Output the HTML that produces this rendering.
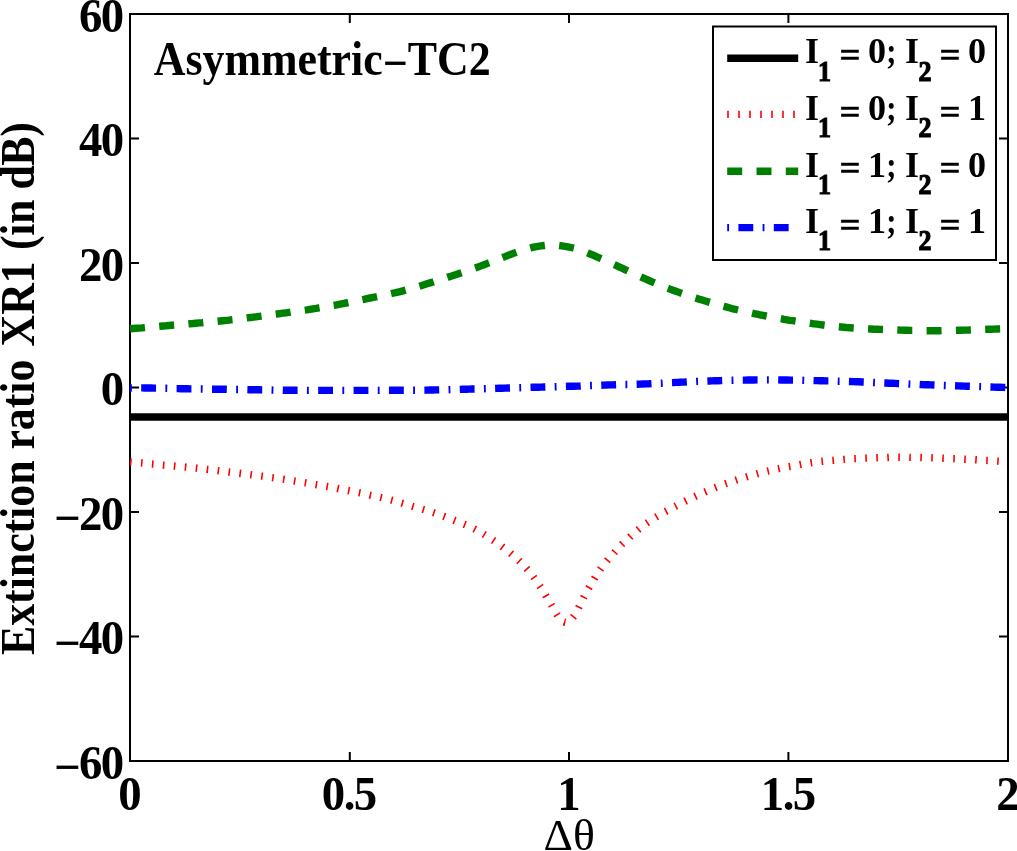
<!DOCTYPE html>
<html><head><meta charset="utf-8"><title>Extinction ratio XR1</title>
<style>
html,body{margin:0;padding:0;background:#fff;}
body{width:1017px;height:851px;overflow:hidden;}
svg{display:block;}
text{font-family:"Liberation Serif",serif;fill:#000;}
</style></head><body>
<svg width="1017" height="851" viewBox="0 0 1017 851">
<rect x="0" y="0" width="1017" height="851" fill="#fff"/>

<g stroke="#000" stroke-width="2" fill="none" stroke-linecap="butt">
<rect x="130" y="14" width="878" height="747"/>
<path d="M349.8 761 V752 M349.8 14 V23"/>
<path d="M569 761 V752 M569 14 V23"/>
<path d="M788.4 761 V752 M788.4 14 V23"/>
<path d="M130 138.5 H139 M1008 138.5 H999"/>
<path d="M130 263 H139 M1008 263 H999"/>
<path d="M130 387.5 H139 M1008 387.5 H999"/>
<path d="M130 512 H139 M1008 512 H999"/>
<path d="M130 636.5 H139 M1008 636.5 H999"/>
</g>
<g fill="none" stroke-linecap="butt" stroke-linejoin="round">
<path d="M130 417 H1008" stroke="#000" stroke-width="7.4"/>
<path d="M130.0 462.0 L133.0 462.3 L136.0 462.5 L139.0 462.8 L142.0 463.0 L145.0 463.3 L148.0 463.6 L151.0 463.9 L154.0 464.1 L157.0 464.4 L160.0 464.7 L163.0 465.0 L166.0 465.2 L169.0 465.5 L172.0 465.8 L175.0 466.1 L178.0 466.4 L181.0 466.6 L184.0 466.9 L187.0 467.2 L190.0 467.5 L193.0 467.8 L196.0 468.1 L199.0 468.5 L202.0 468.8 L205.0 469.1 L208.0 469.5 L211.0 469.8 L214.0 470.2 L217.0 470.5 L220.0 470.9 L223.0 471.2 L226.0 471.6 L229.0 472.0 L232.0 472.3 L235.0 472.7 L238.0 473.1 L241.0 473.5 L244.0 473.8 L247.0 474.2 L250.0 474.6 L253.0 475.0 L256.0 475.4 L259.0 475.8 L262.0 476.2 L265.0 476.6 L268.0 477.0 L271.0 477.5 L274.0 477.9 L277.0 478.3 L280.0 478.8 L283.0 479.2 L286.0 479.7 L289.0 480.1 L292.0 480.6 L295.0 481.1 L298.0 481.6 L301.0 482.0 L304.0 482.5 L307.0 483.0 L310.0 483.6 L313.0 484.1 L316.0 484.6 L319.0 485.1 L322.0 485.7 L325.0 486.2 L328.0 486.7 L331.0 487.3 L334.0 487.8 L337.0 488.4 L340.0 489.0 L343.0 489.5 L346.0 490.1 L349.0 490.7 L352.0 491.3 L355.0 491.9 L358.0 492.5 L361.0 493.1 L364.0 493.8 L367.0 494.4 L370.0 495.1 L373.0 495.7 L376.0 496.4 L379.0 497.1 L382.0 497.8 L385.0 498.5 L388.0 499.2 L391.0 500.0 L394.0 500.8 L397.0 501.7 L400.0 502.6 L403.0 503.5 L406.0 504.4 L409.0 505.3 L412.0 506.2 L415.0 507.1 L418.0 508.0 L421.0 508.8 L424.0 509.7 L427.0 510.6 L430.0 511.5 L433.0 512.5 L436.0 513.5 L439.0 514.6 L442.0 515.6 L445.0 516.7 L448.0 517.9 L451.0 519.0 L454.0 520.2 L457.0 521.4 L460.0 522.6 L463.0 523.8 L466.0 525.0 L469.0 526.3 L472.0 527.7 L475.0 529.2 L478.0 530.8 L481.0 532.5 L484.0 534.4 L487.0 536.3 L490.0 538.2 L493.0 540.2 L496.0 542.2 L499.0 544.4 L502.0 546.6 L505.0 548.8 L508.0 551.2 L511.0 553.7 L514.0 556.2 L517.0 558.8 L520.0 561.6 L523.0 564.5 L526.0 567.7 L529.0 571.1 L532.0 574.9 L535.0 579.0 L538.0 583.3 L541.0 587.8 L544.0 592.6 L547.0 597.7 L550.0 602.6 L553.0 607.6 L556.0 613.1 L559.0 618.1 L562.0 621.3 L565.0 622.4 L565.5 622.5 L568.5 621.4 L571.5 619.1 L574.5 615.4 L577.5 609.9 L580.5 603.8 L583.5 597.7 L586.5 592.1 L589.5 586.8 L592.5 581.7 L595.5 576.7 L598.5 572.0 L601.5 567.7 L604.5 563.9 L607.5 560.2 L610.5 556.7 L613.5 553.4 L616.5 550.0 L619.5 546.7 L622.5 543.7 L625.5 540.9 L628.5 538.2 L631.5 535.4 L634.5 532.6 L637.5 530.1 L640.5 527.7 L643.5 525.5 L646.5 523.3 L649.5 521.3 L652.5 519.3 L655.5 517.4 L658.5 515.6 L661.5 513.8 L664.5 512.1 L667.5 510.5 L670.5 508.8 L673.5 507.2 L676.5 505.7 L679.5 504.1 L682.5 502.6 L685.5 501.1 L688.5 499.7 L691.5 498.2 L694.5 496.8 L697.5 495.4 L700.5 494.0 L703.5 492.6 L706.5 491.3 L709.5 490.0 L712.5 488.7 L715.5 487.5 L718.5 486.3 L721.5 485.2 L724.5 484.1 L727.5 483.1 L730.5 482.0 L733.5 481.0 L736.5 480.0 L739.5 479.0 L742.5 478.1 L745.5 477.2 L748.5 476.3 L751.5 475.4 L754.5 474.6 L757.5 473.7 L760.5 472.9 L763.5 472.2 L766.5 471.4 L769.5 470.7 L772.5 470.0 L775.5 469.3 L778.5 468.7 L781.5 468.0 L784.5 467.4 L787.5 466.8 L790.5 466.3 L793.5 465.7 L796.5 465.2 L799.5 464.7 L802.5 464.1 L805.5 463.6 L808.5 463.2 L811.5 462.7 L814.5 462.3 L817.5 461.9 L820.5 461.5 L823.5 461.2 L826.5 460.9 L829.5 460.6 L832.5 460.4 L835.5 460.1 L838.5 459.9 L841.5 459.7 L844.5 459.4 L847.5 459.2 L850.5 459.0 L853.5 458.7 L856.5 458.6 L859.5 458.4 L862.5 458.2 L865.5 458.1 L868.5 458.0 L871.5 457.9 L874.5 457.8 L877.5 457.7 L880.5 457.6 L883.5 457.5 L886.5 457.5 L889.5 457.3 L892.5 457.2 L895.5 457.2 L898.5 457.2 L901.5 457.2 L904.5 457.3 L907.5 457.3 L910.5 457.4 L913.5 457.4 L916.5 457.5 L919.5 457.5 L922.5 457.6 L925.5 457.7 L928.5 457.7 L931.5 457.8 L934.5 457.9 L937.5 457.9 L940.5 458.0 L943.5 458.2 L946.5 458.3 L949.5 458.4 L952.5 458.6 L955.5 458.7 L958.5 458.9 L961.5 459.0 L964.5 459.2 L967.5 459.3 L970.5 459.5 L973.5 459.6 L976.5 459.8 L979.5 460.0 L982.5 460.2 L985.5 460.4 L988.5 460.5 L991.5 460.7 L994.5 460.9 L997.5 461.1 L1000.5 461.3 L1003.5 461.6 L1006.5 461.8 L1008.0 462.0" stroke="#ff0000" stroke-width="7.4" stroke-dasharray="1.6 9.4"/>
<path d="M130.0 328.7 L133.0 328.5 L136.0 328.3 L139.0 328.1 L142.0 327.9 L145.0 327.6 L148.0 327.4 L151.0 327.1 L154.0 326.8 L157.0 326.6 L160.0 326.3 L163.0 326.0 L166.0 325.8 L169.0 325.5 L172.0 325.2 L175.0 325.0 L178.0 324.7 L181.0 324.5 L184.0 324.2 L187.0 324.0 L190.0 323.7 L193.0 323.5 L196.0 323.2 L199.0 322.9 L202.0 322.7 L205.0 322.4 L208.0 322.2 L211.0 321.9 L214.0 321.6 L217.0 321.3 L220.0 321.0 L223.0 320.7 L226.0 320.4 L229.0 320.1 L232.0 319.7 L235.0 319.4 L238.0 319.0 L241.0 318.7 L244.0 318.3 L247.0 317.9 L250.0 317.5 L253.0 317.2 L256.0 316.8 L259.0 316.4 L262.0 316.0 L265.0 315.6 L268.0 315.2 L271.0 314.8 L274.0 314.4 L277.0 314.0 L280.0 313.6 L283.0 313.2 L286.0 312.8 L289.0 312.4 L292.0 311.9 L295.0 311.5 L298.0 311.1 L301.0 310.7 L304.0 310.2 L307.0 309.8 L310.0 309.3 L313.0 308.8 L316.0 308.4 L319.0 307.9 L322.0 307.4 L325.0 306.9 L328.0 306.4 L331.0 305.9 L334.0 305.4 L337.0 304.8 L340.0 304.2 L343.0 303.6 L346.0 303.0 L349.0 302.4 L352.0 301.8 L355.0 301.2 L358.0 300.5 L361.0 299.9 L364.0 299.3 L367.0 298.6 L370.0 298.0 L373.0 297.4 L376.0 296.8 L379.0 296.2 L382.0 295.6 L385.0 294.9 L388.0 294.3 L391.0 293.7 L394.0 293.0 L397.0 292.3 L400.0 291.6 L403.0 290.8 L406.0 290.0 L409.0 289.2 L412.0 288.3 L415.0 287.5 L418.0 286.6 L421.0 285.7 L424.0 284.8 L427.0 283.8 L430.0 282.9 L433.0 282.0 L436.0 281.0 L439.0 280.1 L442.0 279.1 L445.0 278.1 L448.0 277.1 L451.0 276.2 L454.0 275.2 L457.0 274.2 L460.0 273.2 L463.0 272.2 L466.0 271.2 L469.0 270.1 L472.0 269.1 L475.0 268.0 L478.0 267.0 L481.0 265.9 L484.0 264.8 L487.0 263.6 L490.0 262.5 L493.0 261.3 L496.0 260.1 L499.0 258.9 L502.0 257.7 L505.0 256.6 L508.0 255.4 L511.0 254.2 L514.0 253.1 L517.0 252.0 L520.0 251.0 L523.0 250.0 L526.0 249.1 L529.0 248.3 L532.0 247.5 L535.0 246.9 L538.0 246.4 L541.0 245.9 L544.0 245.5 L547.0 245.1 L550.0 244.9 L553.0 244.9 L556.0 245.2 L559.0 245.5 L562.0 245.9 L565.0 246.3 L568.0 246.8 L571.0 247.5 L574.0 248.2 L577.0 249.0 L580.0 250.0 L583.0 251.1 L586.0 252.3 L589.0 253.5 L592.0 254.7 L595.0 256.0 L598.0 257.3 L601.0 258.7 L604.0 260.0 L607.0 261.3 L610.0 262.7 L613.0 264.1 L616.0 265.4 L619.0 266.8 L622.0 268.2 L625.0 269.6 L628.0 271.0 L631.0 272.4 L634.0 273.8 L637.0 275.1 L640.0 276.5 L643.0 277.9 L646.0 279.2 L649.0 280.5 L652.0 281.8 L655.0 283.1 L658.0 284.3 L661.0 285.6 L664.0 286.8 L667.0 288.0 L670.0 289.1 L673.0 290.2 L676.0 291.3 L679.0 292.4 L682.0 293.5 L685.0 294.5 L688.0 295.5 L691.0 296.5 L694.0 297.5 L697.0 298.4 L700.0 299.4 L703.0 300.3 L706.0 301.2 L709.0 302.1 L712.0 303.0 L715.0 303.9 L718.0 304.8 L721.0 305.6 L724.0 306.4 L727.0 307.2 L730.0 308.0 L733.0 308.8 L736.0 309.5 L739.0 310.2 L742.0 310.9 L745.0 311.6 L748.0 312.3 L751.0 312.9 L754.0 313.6 L757.0 314.2 L760.0 314.8 L763.0 315.4 L766.0 316.0 L769.0 316.6 L772.0 317.1 L775.0 317.7 L778.0 318.2 L781.0 318.7 L784.0 319.3 L787.0 319.8 L790.0 320.3 L793.0 320.7 L796.0 321.2 L799.0 321.7 L802.0 322.1 L805.0 322.5 L808.0 323.0 L811.0 323.4 L814.0 323.8 L817.0 324.2 L820.0 324.6 L823.0 325.0 L826.0 325.4 L829.0 325.7 L832.0 326.1 L835.0 326.4 L838.0 326.7 L841.0 327.0 L844.0 327.3 L847.0 327.6 L850.0 327.8 L853.0 328.0 L856.0 328.2 L859.0 328.4 L862.0 328.6 L865.0 328.8 L868.0 328.9 L871.0 329.0 L874.0 329.2 L877.0 329.3 L880.0 329.4 L883.0 329.5 L886.0 329.6 L889.0 329.8 L892.0 329.9 L895.0 329.9 L898.0 330.0 L901.0 330.1 L904.0 330.2 L907.0 330.3 L910.0 330.4 L913.0 330.4 L916.0 330.5 L919.0 330.6 L922.0 330.6 L925.0 330.7 L928.0 330.7 L931.0 330.7 L934.0 330.7 L937.0 330.7 L940.0 330.7 L943.0 330.6 L946.0 330.6 L949.0 330.5 L952.0 330.5 L955.0 330.4 L958.0 330.3 L961.0 330.2 L964.0 330.1 L967.0 330.1 L970.0 330.0 L973.0 329.9 L976.0 329.7 L979.0 329.6 L982.0 329.5 L985.0 329.4 L988.0 329.3 L991.0 329.2 L994.0 329.1 L997.0 329.0 L1000.0 328.9 L1003.0 328.8 L1006.0 328.8 L1008.0 328.7" stroke="#008000" stroke-width="7.4" stroke-dasharray="15 14.3"/>
<path d="M130.0 388.0 L133.0 388.0 L136.0 387.9 L139.0 387.9 L142.0 387.9 L145.0 388.0 L148.0 388.0 L151.0 388.0 L154.0 388.1 L157.0 388.1 L160.0 388.2 L163.0 388.3 L166.0 388.3 L169.0 388.4 L172.0 388.5 L175.0 388.6 L178.0 388.6 L181.0 388.7 L184.0 388.8 L187.0 388.8 L190.0 388.9 L193.0 388.9 L196.0 389.0 L199.0 389.0 L202.0 389.0 L205.0 389.1 L208.0 389.1 L211.0 389.2 L214.0 389.2 L217.0 389.2 L220.0 389.3 L223.0 389.3 L226.0 389.3 L229.0 389.4 L232.0 389.4 L235.0 389.5 L238.0 389.5 L241.0 389.5 L244.0 389.6 L247.0 389.6 L250.0 389.7 L253.0 389.7 L256.0 389.8 L259.0 389.8 L262.0 389.9 L265.0 389.9 L268.0 390.0 L271.0 390.0 L274.0 390.1 L277.0 390.1 L280.0 390.1 L283.0 390.2 L286.0 390.2 L289.0 390.2 L292.0 390.3 L295.0 390.3 L298.0 390.3 L301.0 390.3 L304.0 390.3 L307.0 390.4 L310.0 390.4 L313.0 390.4 L316.0 390.4 L319.0 390.4 L322.0 390.4 L325.0 390.4 L328.0 390.4 L331.0 390.4 L334.0 390.4 L337.0 390.4 L340.0 390.4 L343.0 390.4 L346.0 390.4 L349.0 390.4 L352.0 390.4 L355.0 390.4 L358.0 390.4 L361.0 390.4 L364.0 390.4 L367.0 390.4 L370.0 390.4 L373.0 390.4 L376.0 390.4 L379.0 390.4 L382.0 390.4 L385.0 390.3 L388.0 390.3 L391.0 390.3 L394.0 390.3 L397.0 390.3 L400.0 390.3 L403.0 390.3 L406.0 390.3 L409.0 390.2 L412.0 390.2 L415.0 390.2 L418.0 390.2 L421.0 390.1 L424.0 390.1 L427.0 390.1 L430.0 390.0 L433.0 390.0 L436.0 389.9 L439.0 389.9 L442.0 389.8 L445.0 389.7 L448.0 389.7 L451.0 389.6 L454.0 389.5 L457.0 389.5 L460.0 389.4 L463.0 389.3 L466.0 389.2 L469.0 389.1 L472.0 389.0 L475.0 389.0 L478.0 388.9 L481.0 388.8 L484.0 388.7 L487.0 388.6 L490.0 388.5 L493.0 388.5 L496.0 388.4 L499.0 388.3 L502.0 388.2 L505.0 388.1 L508.0 388.0 L511.0 387.9 L514.0 387.9 L517.0 387.8 L520.0 387.7 L523.0 387.6 L526.0 387.5 L529.0 387.4 L532.0 387.3 L535.0 387.3 L538.0 387.2 L541.0 387.1 L544.0 387.0 L547.0 386.9 L550.0 386.9 L553.0 386.8 L556.0 386.7 L559.0 386.6 L562.0 386.5 L565.0 386.4 L568.0 386.3 L571.0 386.3 L574.0 386.2 L577.0 386.1 L580.0 386.0 L583.0 385.8 L586.0 385.7 L589.0 385.6 L592.0 385.5 L595.0 385.4 L598.0 385.3 L601.0 385.2 L604.0 385.1 L607.0 385.0 L610.0 384.9 L613.0 384.9 L616.0 384.8 L619.0 384.7 L622.0 384.6 L625.0 384.5 L628.0 384.5 L631.0 384.4 L634.0 384.3 L637.0 384.2 L640.0 384.1 L643.0 384.0 L646.0 383.9 L649.0 383.8 L652.0 383.6 L655.0 383.5 L658.0 383.3 L661.0 383.2 L664.0 383.0 L667.0 382.9 L670.0 382.7 L673.0 382.6 L676.0 382.4 L679.0 382.3 L682.0 382.1 L685.0 382.0 L688.0 381.8 L691.0 381.7 L694.0 381.6 L697.0 381.4 L700.0 381.3 L703.0 381.2 L706.0 381.1 L709.0 381.0 L712.0 380.9 L715.0 380.8 L718.0 380.7 L721.0 380.6 L724.0 380.5 L727.0 380.4 L730.0 380.3 L733.0 380.3 L736.0 380.2 L739.0 380.1 L742.0 380.1 L745.0 380.1 L748.0 380.0 L751.0 380.0 L754.0 380.0 L757.0 379.9 L760.0 379.9 L763.0 379.9 L766.0 379.9 L769.0 379.9 L772.0 379.9 L775.0 379.9 L778.0 379.9 L781.0 380.0 L784.0 380.0 L787.0 380.0 L790.0 380.1 L793.0 380.1 L796.0 380.2 L799.0 380.2 L802.0 380.3 L805.0 380.4 L808.0 380.4 L811.0 380.5 L814.0 380.6 L817.0 380.6 L820.0 380.7 L823.0 380.8 L826.0 380.9 L829.0 380.9 L832.0 381.0 L835.0 381.1 L838.0 381.2 L841.0 381.2 L844.0 381.3 L847.0 381.4 L850.0 381.5 L853.0 381.6 L856.0 381.7 L859.0 381.8 L862.0 382.0 L865.0 382.1 L868.0 382.2 L871.0 382.3 L874.0 382.5 L877.0 382.6 L880.0 382.7 L883.0 382.9 L886.0 383.0 L889.0 383.2 L892.0 383.3 L895.0 383.4 L898.0 383.6 L901.0 383.7 L904.0 383.8 L907.0 383.9 L910.0 384.1 L913.0 384.2 L916.0 384.3 L919.0 384.4 L922.0 384.6 L925.0 384.7 L928.0 384.8 L931.0 384.9 L934.0 385.0 L937.0 385.1 L940.0 385.2 L943.0 385.4 L946.0 385.5 L949.0 385.6 L952.0 385.7 L955.0 385.8 L958.0 385.9 L961.0 386.0 L964.0 386.1 L967.0 386.2 L970.0 386.3 L973.0 386.4 L976.0 386.5 L979.0 386.6 L982.0 386.7 L985.0 386.8 L988.0 386.9 L991.0 387.0 L994.0 387.1 L997.0 387.2 L1000.0 387.3 L1003.0 387.4 L1006.0 387.5 L1008.0 387.6" stroke="#0000ff" stroke-width="7.4" stroke-dasharray="1.85 9.35 14.85 9.35"/>
</g>
<text transform="translate(122.6,31.5) scale(0.975,1)" font-size="48" font-weight="bold" letter-spacing="-1.64" text-anchor="end">60</text>
<text transform="translate(122.6,156.0) scale(0.975,1)" font-size="48" font-weight="bold" letter-spacing="-1.64" text-anchor="end">40</text>
<text transform="translate(122.6,280.5) scale(0.975,1)" font-size="48" font-weight="bold" letter-spacing="-1.64" text-anchor="end">20</text>
<text transform="translate(122.6,405.0) scale(0.975,1)" font-size="48" font-weight="bold" letter-spacing="-1.64" text-anchor="end">0</text>
<text transform="translate(122.6,529.5) scale(0.975,1)" font-size="48" font-weight="bold" letter-spacing="-1.64" text-anchor="end"><tspan dy="4.8">−</tspan><tspan dy="-4.8">20</tspan></text>
<text transform="translate(122.6,654.0) scale(0.975,1)" font-size="48" font-weight="bold" letter-spacing="-1.64" text-anchor="end"><tspan dy="4.8">−</tspan><tspan dy="-4.8">40</tspan></text>
<text transform="translate(122.6,778.5) scale(0.975,1)" font-size="48" font-weight="bold" letter-spacing="-1.64" text-anchor="end"><tspan dy="4.8">−</tspan><tspan dy="-4.8">60</tspan></text>
<text transform="translate(129.2,810.2) scale(0.975,1)" font-size="48" font-weight="bold" letter-spacing="-1.64" text-anchor="middle">0</text>
<text transform="translate(348.7,810.2) scale(0.975,1)" font-size="48" font-weight="bold" letter-spacing="-1.64" text-anchor="middle">0.5</text>
<text transform="translate(568.2,810.2) scale(0.975,1)" font-size="48" font-weight="bold" letter-spacing="-1.64" text-anchor="middle">1</text>
<text transform="translate(787.7,810.2) scale(0.975,1)" font-size="48" font-weight="bold" letter-spacing="-1.64" text-anchor="middle">1.5</text>
<text transform="translate(1007.2,810.2) scale(0.975,1)" font-size="48" font-weight="bold" letter-spacing="-1.64" text-anchor="middle">2</text>
<text x="543.6" y="849.6" font-size="43.5" textLength="51.3" lengthAdjust="spacingAndGlyphs">Δθ</text>
<text transform="translate(33.8,388.8) rotate(-90) scale(0.9115,1)" font-size="48" font-weight="bold" text-anchor="middle" xml:space="preserve">Extinction ratio <tspan dx="2.6">XR1 </tspan><tspan dx="0.5" letter-spacing="-0.42">(in dB)</tspan></text>
<text transform="translate(153.8,74.6) scale(0.914,1)" font-size="48" font-weight="bold">Asymmetric<tspan dy="4.8">−</tspan><tspan dy="-4.8">TC2</tspan></text>
<rect x="713" y="26.5" width="283" height="233.5" fill="#fff" stroke="#000" stroke-width="2"/>
<path d="M727.2 58.3 H798.2" stroke="#000" stroke-width="7.4" fill="none"/>
<text y="63.4" font-size="36.5" font-weight="bold"><tspan x="804.90" textLength="14.03" lengthAdjust="spacingAndGlyphs">I</tspan><tspan x="818.10" dy="17.2" font-size="28.6" textLength="13.04" lengthAdjust="spacingAndGlyphs" stroke="#000" stroke-width="1.1">1</tspan> <tspan x="839.50" dy="-13.6" textLength="21.08" lengthAdjust="spacingAndGlyphs" stroke="#000" stroke-width="0.5">=</tspan> <tspan x="867.90" dy="-3.6" textLength="18.05" lengthAdjust="spacingAndGlyphs">0</tspan><tspan x="886.20" textLength="10.19" lengthAdjust="spacingAndGlyphs">;</tspan> <tspan x="905.00" textLength="14.03" lengthAdjust="spacingAndGlyphs">I</tspan><tspan x="918.50" dy="17.2" font-size="28.6" textLength="13.00" lengthAdjust="spacingAndGlyphs" stroke="#000" stroke-width="1.1">2</tspan> <tspan x="939.60" dy="-13.6" textLength="21.08" lengthAdjust="spacingAndGlyphs" stroke="#000" stroke-width="0.5">=</tspan> <tspan x="968.00" dy="-3.6" textLength="18.05" lengthAdjust="spacingAndGlyphs">0</tspan></text>
<path d="M727.2 114.4 H798.2" stroke="#ff0000" stroke-width="7.4" fill="none" stroke-dasharray="1.6 9.4"/>
<text y="120.0" font-size="36.5" font-weight="bold"><tspan x="804.90" textLength="14.03" lengthAdjust="spacingAndGlyphs">I</tspan><tspan x="818.10" dy="17.2" font-size="28.6" textLength="13.04" lengthAdjust="spacingAndGlyphs" stroke="#000" stroke-width="1.1">1</tspan> <tspan x="839.50" dy="-13.6" textLength="21.08" lengthAdjust="spacingAndGlyphs" stroke="#000" stroke-width="0.5">=</tspan> <tspan x="867.90" dy="-3.6" textLength="18.05" lengthAdjust="spacingAndGlyphs">0</tspan><tspan x="886.20" textLength="10.19" lengthAdjust="spacingAndGlyphs">;</tspan> <tspan x="905.00" textLength="14.03" lengthAdjust="spacingAndGlyphs">I</tspan><tspan x="918.50" dy="17.2" font-size="28.6" textLength="13.00" lengthAdjust="spacingAndGlyphs" stroke="#000" stroke-width="1.1">2</tspan> <tspan x="939.60" dy="-13.6" textLength="21.08" lengthAdjust="spacingAndGlyphs" stroke="#000" stroke-width="0.5">=</tspan> <tspan x="968.00" dy="-3.6" textLength="18.05" lengthAdjust="spacingAndGlyphs">1</tspan></text>
<path d="M727.2 171.2 H798.2" stroke="#008000" stroke-width="7.4" fill="none" stroke-dasharray="15 14.3"/>
<text y="176.6" font-size="36.5" font-weight="bold"><tspan x="804.90" textLength="14.03" lengthAdjust="spacingAndGlyphs">I</tspan><tspan x="818.10" dy="17.2" font-size="28.6" textLength="13.04" lengthAdjust="spacingAndGlyphs" stroke="#000" stroke-width="1.1">1</tspan> <tspan x="839.50" dy="-13.6" textLength="21.08" lengthAdjust="spacingAndGlyphs" stroke="#000" stroke-width="0.5">=</tspan> <tspan x="867.90" dy="-3.6" textLength="18.05" lengthAdjust="spacingAndGlyphs">1</tspan><tspan x="886.20" textLength="10.19" lengthAdjust="spacingAndGlyphs">;</tspan> <tspan x="905.00" textLength="14.03" lengthAdjust="spacingAndGlyphs">I</tspan><tspan x="918.50" dy="17.2" font-size="28.6" textLength="13.00" lengthAdjust="spacingAndGlyphs" stroke="#000" stroke-width="1.1">2</tspan> <tspan x="939.60" dy="-13.6" textLength="21.08" lengthAdjust="spacingAndGlyphs" stroke="#000" stroke-width="0.5">=</tspan> <tspan x="968.00" dy="-3.6" textLength="18.05" lengthAdjust="spacingAndGlyphs">0</tspan></text>
<path d="M727.2 227.6 H797.6" stroke="#0000ff" stroke-width="7.4" fill="none" stroke-dasharray="1.85 9.35 14.85 9.35"/>
<text y="233.2" font-size="36.5" font-weight="bold"><tspan x="804.90" textLength="14.03" lengthAdjust="spacingAndGlyphs">I</tspan><tspan x="818.10" dy="17.2" font-size="28.6" textLength="13.04" lengthAdjust="spacingAndGlyphs" stroke="#000" stroke-width="1.1">1</tspan> <tspan x="839.50" dy="-13.6" textLength="21.08" lengthAdjust="spacingAndGlyphs" stroke="#000" stroke-width="0.5">=</tspan> <tspan x="867.90" dy="-3.6" textLength="18.05" lengthAdjust="spacingAndGlyphs">1</tspan><tspan x="886.20" textLength="10.19" lengthAdjust="spacingAndGlyphs">;</tspan> <tspan x="905.00" textLength="14.03" lengthAdjust="spacingAndGlyphs">I</tspan><tspan x="918.50" dy="17.2" font-size="28.6" textLength="13.00" lengthAdjust="spacingAndGlyphs" stroke="#000" stroke-width="1.1">2</tspan> <tspan x="939.60" dy="-13.6" textLength="21.08" lengthAdjust="spacingAndGlyphs" stroke="#000" stroke-width="0.5">=</tspan> <tspan x="968.00" dy="-3.6" textLength="18.05" lengthAdjust="spacingAndGlyphs">1</tspan></text>
</svg></body></html>
